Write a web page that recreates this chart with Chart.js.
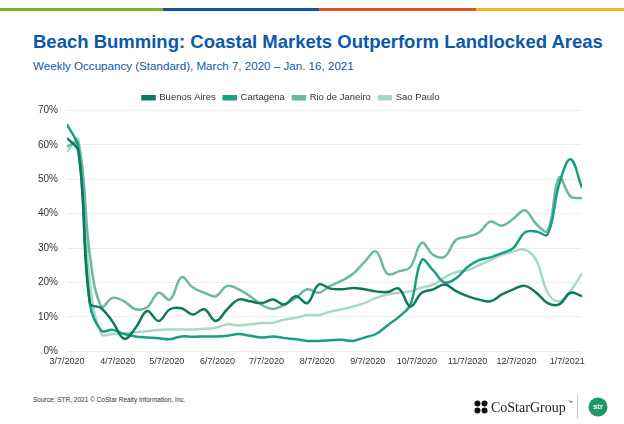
<!DOCTYPE html>
<html>
<head>
<meta charset="utf-8">
<script src="https://cdn.jsdelivr.net/npm/chart.js@4.4.1/dist/chart.umd.min.js"></script>
<style>
  html, body { margin: 0; padding: 0; background: #fff; }
  body { width: 624px; height: 424px; position: relative; overflow: hidden; font-family: 'Liberation Sans', Arial, sans-serif; }
  .bar { position: absolute; top: 8px; height: 3px; }
  #title { position: absolute; left: 33px; top: 31px; font-size: 18.5px; font-weight: bold; color: #0b58ad; white-space: nowrap; }
  #subtitle { position: absolute; left: 33px; top: 59px; font-size: 11.6px; color: #0b58ad; white-space: nowrap; }
  #wrap { position: absolute; left: 0; top: 80px; width: 624px; height: 300px; }
  #source { position: absolute; left: 33px; top: 396px; font-size: 6.5px; color: #333; white-space: nowrap; }
  #logo { position: absolute; left: 468px; top: 392px; }
</style>
</head>
<body>
<div class="bar" style="left:0;width:163px;background:#7ab51d"></div>
<div class="bar" style="left:163px;width:156px;background:#0c55a8"></div>
<div class="bar" style="left:319px;width:157px;background:#e8531c"></div>
<div class="bar" style="left:476px;width:148px;background:#f7b217"></div>
<div id="title">Beach Bumming: Coastal Markets Outperform Landlocked Areas</div>
<div id="subtitle">Weekly Occupancy (Standard), March 7, 2020 – Jan. 16, 2021</div>
<div id="wrap"><canvas id="chart"></canvas></div>
<div id="source">Source: STR, 2021 © CoStar Realty Information, Inc.</div>
<canvas id="logo" width="150" height="30"></canvas>
<script>
// weekly observations (week ending)
const weeks = [
  '2020-03-07', '2020-03-14', '2020-03-21', '2020-03-28', '2020-04-04', '2020-04-11', '2020-04-18', '2020-04-25',
  '2020-05-02', '2020-05-09', '2020-05-16', '2020-05-23', '2020-05-30', '2020-06-06', '2020-06-13', '2020-06-20',
  '2020-06-27', '2020-07-04', '2020-07-11', '2020-07-18', '2020-07-25', '2020-08-01', '2020-08-08', '2020-08-15',
  '2020-08-22', '2020-08-29', '2020-09-05', '2020-09-12', '2020-09-19', '2020-09-26', '2020-10-03', '2020-10-10',
  '2020-10-17', '2020-10-24', '2020-10-31', '2020-11-07', '2020-11-14', '2020-11-21', '2020-11-28', '2020-12-05',
  '2020-12-12', '2020-12-19', '2020-12-26', '2021-01-02', '2021-01-09', '2021-01-16'
];

const seriesNames = ['Buenos Aires', 'Cartagena', 'Rio de Janeiro', 'Sao Paulo'];
const seriesColors = ['#0b7a60', '#179f83', '#69ba9f', '#a9d9c6'];

const buenosAires = [62, 58, 14, 12.5, 8.5, 3.6, 6.8, 11.7, 8.8, 12.2, 12.5, 10.7, 12.2, 8.8, 12.2, 15,
  14.5, 14, 15, 13.6, 16, 14, 19.4, 18.2, 18, 18.4, 18, 17.4, 17.2, 18.2, 13, 17,
  18, 19.4, 17.5, 16, 15, 14.5, 16.5, 18, 19, 17, 14, 13.6, 17, 16];
const cartagena = [66, 59, 14, 6, 6.2, 5, 4.3, 4, 3.8, 3.5, 4.3, 4.2, 4.3, 4.3, 4.5, 5,
  4.5, 4, 4.3, 3.8, 3.5, 3, 3, 3.2, 3.3, 3, 4, 5, 7.5, 10, 13.5, 26.5,
  23.5, 20, 21.2, 24.5, 26.5, 27.3, 28.5, 30, 34.5, 34.8, 34, 48.5, 55.8, 47.5];
const rioDeJaneiro = [59.5, 60.5, 28, 13, 15.5, 14.5, 12.2, 12.8, 17, 15, 21.5, 18.5, 17, 16, 19, 18,
  16, 13.5, 12.3, 13.5, 15.5, 18, 17, 19, 20.5, 22.5, 26, 29, 22.5, 23.2, 24.5, 31.5,
  28, 27.5, 32.4, 33.3, 34.5, 37.7, 36.5, 38.5, 41, 37, 35, 50.5, 45, 44.5];
const saoPaulo = [58, 61.5, 20, 5, 5, 5.3, 5.5, 5.8, 6.2, 6.3, 6.3, 6.3, 6.5, 6.8, 7.8, 7.5,
  7.8, 8.2, 8.3, 9.2, 9.7, 10.5, 10.5, 11.5, 12.2, 13, 14, 15.5, 16.5, 17, 17.4, 18.5,
  19.4, 21.5, 23, 23.5, 25, 26.5, 28, 29, 29.5, 26.5, 17, 14.5, 17.5, 22.7];

const tickLabels = ['3/7/2020', '4/7/2020', '5/7/2020', '6/7/2020', '7/7/2020', '8/7/2020',
  '9/7/2020', '10/7/2020', '11/7/2020', '12/7/2020', '1/7/2021'];
const yTicks = [0, 10, 20, 30, 40, 50, 60, 70];

const DAY = 864e5;
const t0 = Date.parse(weeks[0] + 'T00:00:00Z');
const dayOf = (iso) => (Date.parse(iso + 'T00:00:00Z') - t0) / DAY;
const labelDay = (label) => {
  const [m, d, y] = label.split('/').map(Number);
  return (Date.UTC(y, m - 1, d) - t0) / DAY;
};
const weekDays = weeks.map(dayOf);
const tickDays = tickLabels.map(labelDay);

const allSeries = [buenosAires, cartagena, rioDeJaneiro, saoPaulo];

// pull the plot a little closer to the legend
const legendGap = {
  id: 'legendGap',
  afterInit(chart) {
    const fit = chart.legend.fit;
    chart.legend.fit = function () {
      fit.call(this);
      this.height -= 2;
    };
  },
};

new Chart(document.getElementById('chart'), {
  type: 'line',
  data: {
    datasets: allSeries.map((values, i) => ({
      label: seriesNames[i],
      data: values.map((v, j) => ({ x: weekDays[j], y: v })),
      borderColor: seriesColors[i],
      backgroundColor: seriesColors[i],
      borderWidth: 2.5,
      pointRadius: 0,
      tension: 0.4,
      fill: false,
    })),
  },
  plugins: [legendGap],
  options: {
    responsive: true,
    maintainAspectRatio: false,
    animation: false,
    layout: { padding: { left: 0, right: 42, top: 5, bottom: 8 } },
    plugins: {
      legend: {
        position: 'top',
        labels: {
          boxWidth: 12,
          boxHeight: 3,
          padding: 8,
          color: '#333',
          font: { family: 'Liberation Sans', size: 9.5 },
        },
      },
      tooltip: { enabled: false },
    },
    scales: {
      x: {
        type: 'linear',
        min: weekDays[0],
        max: weekDays[weekDays.length - 1],
        afterBuildTicks: (scale) => { scale.ticks = tickDays.map((v) => ({ value: v })); },
        grid: { display: false, drawTicks: false },
        border: { display: false },
        ticks: {
          autoSkip: false,
          maxRotation: 0,
          color: '#333',
          padding: 5,
          font: { family: 'Liberation Sans', size: 9 },
          callback: (v) => tickLabels[tickDays.indexOf(v)] ?? '',
        },
      },
      y: {
        min: yTicks[0],
        max: yTicks[yTicks.length - 1],
        afterBuildTicks: (scale) => { scale.ticks = yTicks.map((v) => ({ value: v })); },
        afterFit: (scale) => { scale.width = 67; },
        grid: { color: '#ececec', drawTicks: false },
        border: { display: false },
        ticks: {
          color: '#333',
          padding: 9,
          font: { family: 'Liberation Sans', size: 10 },
          callback: (v) => v + '%',
        },
      },
    },
  },
});

// CoStar / STR logos in the footer
const lg = document.getElementById('logo').getContext('2d');
lg.fillStyle = '#111';
for (let k = 0; k < 4; k++) {
  const a = k * Math.PI / 2 + Math.PI / 4;
  lg.beginPath();
  lg.arc(13 + Math.cos(a) * 5, 15 + Math.sin(a) * 5, 3, 0, Math.PI * 2);
  lg.fill();
}
lg.font = '14px "Liberation Serif", serif';
lg.fillStyle = '#222';
lg.textBaseline = 'middle';
lg.fillText('CoStarGroup', 23, 16);
lg.font = '5px "Liberation Sans"';
lg.fillText('™', 100, 11);
lg.strokeStyle = '#ccc';
lg.lineWidth = 1;
lg.beginPath();
lg.moveTo(109.5, 2);
lg.lineTo(109.5, 27);
lg.stroke();
lg.fillStyle = '#1b9a63';
lg.beginPath();
lg.arc(130, 15, 9.5, 0, Math.PI * 2);
lg.fill();
lg.fillStyle = '#fff';
lg.font = 'bold 8px "Liberation Sans"';
lg.textAlign = 'center';
lg.fillText('str', 130, 15);
</script>
</body>
</html>
